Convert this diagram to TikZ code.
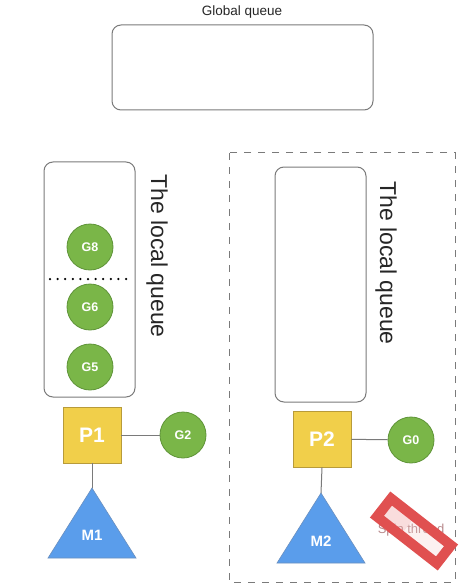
\documentclass[tikz,border=0pt]{standalone}
\usepackage{fontspec}
\setmainfont{Liberation Sans}
\usetikzlibrary{shapes.geometric}
\definecolor{ggreen}{HTML}{7AB648}
\definecolor{ggreenb}{HTML}{5F9438}
\definecolor{pyel}{HTML}{F1CF4A}
\definecolor{pyelb}{HTML}{B89B3A}
\definecolor{mblue}{HTML}{5A9DEB}
\definecolor{mblueb}{HTML}{6A8FBF}
\definecolor{boxgray}{HTML}{7A7A7A}
\definecolor{spinred}{HTML}{E05050}
\definecolor{spintext}{HTML}{B88A8C}
\begin{document}
\begin{tikzpicture}[x=1pt,y=-1pt,
  qbox/.style={draw=boxgray, line width=1pt, rounded corners=9pt},
  gnode/.style={circle, fill=ggreen, draw=ggreenb, line width=0.8pt, minimum size=46pt, inner sep=0pt, text=white, font=\bfseries\fontsize{12.5}{14}\selectfont},
  pnode/.style={fill=pyel, draw=pyelb, line width=0.8pt, minimum width=58pt, minimum height=56pt, inner sep=0pt, text=white, font=\bfseries\fontsize{21}{24}\selectfont},
  link/.style={draw=boxgray, line width=1pt},
  mtri/.style={fill=mblue, draw=mblueb, line width=0.6pt},
  mlabel/.style={text=white, font=\bfseries\fontsize{15}{18}\selectfont},
  qlabel/.style={rotate=-90, font=\fontsize{23}{26}\selectfont, text=black!85}
]
\useasboundingbox (0,0) rectangle (474,588);
\fill[white] (0,0) rectangle (474,588);

% Global queue
\node[font=\fontsize{13.5}{16}\selectfont, text=black!85] (gqt) at (242,12) {Global queue};
\draw[qbox] (112,25) rectangle (373,110);

% left local queue
\draw[qbox] (44,162) rectangle (135,397);
\node[qlabel] (lq1) at (157,256) {The local queue};
\node[gnode] (g8) at (90,247) {G8};
\draw[line width=2.5pt, line cap=round, dash pattern=on 0pt off 7.6pt] (50,279) -- (127,279);
\node[gnode] (g6) at (90,307) {G6};
\node[gnode] (g5) at (90,367) {G5};

\node[pnode] (p1) at (92,435) {P1};
\node[gnode] (g2) at (183,435) {G2};
\draw[link] (p1) -- (g2);
\coordinate (m1top) at (92,488);
\draw[mtri] (92,488) -- (136,558) -- (48,558) -- cycle;
\node[mlabel] (m1) at (92,535) {M1};
\draw[link] (p1.south) -- (m1top);

% dashed region
\draw[boxgray, line width=1pt, dash pattern=on 7pt off 7pt] (229,153) rectangle (455,582);

% right local queue
\draw[qbox] (275,167) rectangle (366,402);
\node[qlabel] (lq2) at (386,263) {The local queue};

\node[pnode] (p2) at (322,439) {P2};
\node[gnode] (g0) at (411,440) {G0};
\draw[link] (p2) -- (g0);
\coordinate (m2top) at (321,493);
\draw[mtri] (321,493) -- (365,563) -- (277,563) -- cycle;
\node[mlabel] (m2) at (321,541) {M2};
\draw[link] (p2.south) -- (m2top);

% spin thread (text lies under the frame)
\node[text=spintext, font=\fontsize{13}{15}\selectfont] (spin) at (411,530) {Spin thread};
\begin{scope}[shift={(414,531)}, rotate=-38]
  \fill[spinred!55, opacity=0.35] (-33,-7) rectangle (-8,7);
  \fill[spinred!30, opacity=0.25] (-8,-7) rectangle (33,7);
  \draw[spinred, line width=10pt] (-38,-11.5) rectangle (38,11.5);
\end{scope}
\end{tikzpicture}
\end{document}
